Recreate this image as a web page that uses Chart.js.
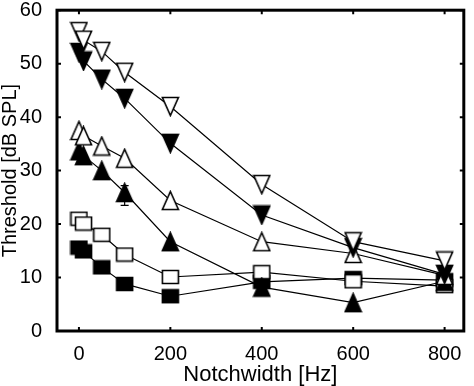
<!DOCTYPE html>
<html>
<head>
<meta charset="utf-8">
<script src="https://cdn.jsdelivr.net/npm/chart.js@4.4.1/dist/chart.umd.min.js"></script>
<style>
  html, body { margin: 0; padding: 0; background: #fff; }
</style>
</head>
<body>
<canvas id="myChart" width="474" height="386"></canvas>
<script>
// notch widths (Hz)
const notch = [0, 10, 50, 100, 200, 400, 600, 800];

// thresholds (dB SPL), one array per condition
const openDown   = [56.0, 54.4, 52.3, 48.4, 42.0, 27.4, 16.7, 13.1];
const filledDown = [52.1, 50.5, 47.1, 43.5, 35.1, 21.7, 15.6, 10.6];
const openUp     = [37.5, 36.5, 34.6, 32.3, 24.4, 16.7, 14.5, 10.4];
const filledUp   = [33.7, 32.8, 30.0, 25.9, 16.7, 8.2, 5.3, 9.3];
const openSq     = [21.0, 20.1, 18.0, 14.3, 10.1, 11.0, 9.3, 8.4];
const filledSq   = [15.6, 14.9, 11.9, 8.8, 6.5, 9.2, 9.9, 9.5];

// the one visible error bar (filled up triangle at 100 Hz)
const errX = [100];
const errLo = [23.5];
const errHi = [27.2];

const xTicks = [0, 200, 400, 600, 800];
const yTicks = [0, 10, 20, 30, 40, 50, 60];

const FONT = 'Liberation Sans, Arial, sans-serif';

function marker(shape, filled) {
  var w = 17, h = shape == 'sq' ? 14 : 19;
  var c = document.createElement('canvas');
  c.width = w + 2; c.height = h + 2;
  var g = c.getContext('2d');
  g.beginPath();
  if (shape == 'up') {
    g.moveTo(1 + w / 2, 1.5); g.lineTo(w + 0.5, h + 0.5); g.lineTo(1.5, h + 0.5);
  } else if (shape == 'down') {
    g.moveTo(1.5, 1.5); g.lineTo(w + 0.5, 1.5); g.lineTo(1 + w / 2, h + 0.5);
  } else {
    g.rect(1.5, 1.5, w - 1, h - 1);
  }
  g.closePath();
  g.fillStyle = filled ? '#000' : '#fff';
  g.fill();
  g.lineWidth = 1.6;
  g.strokeStyle = '#000';
  g.stroke();
  return c;
}

function series(vals, shape, filled) {
  return {
    data: notch.map((x, i) => ({ x: x, y: vals[i] })),
    showLine: true,
    borderColor: '#000',
    borderWidth: 1.2,
    pointStyle: marker(shape, filled),
    pointRadius: 9,
    pointHoverRadius: 9
  };
}

const frame = {
  id: 'frame',
  beforeDatasetsDraw(chart) {
    const ctx = chart.ctx, xs = chart.scales.x, ys = chart.scales.y;
    ctx.save();
    ctx.strokeStyle = '#000';
    ctx.lineWidth = 1.2;
    for (let i = 0; i < errX.length; i++) {
      const px = xs.getPixelForValue(errX[i]);
      const lo = ys.getPixelForValue(errLo[i]), hi = ys.getPixelForValue(errHi[i]);
      ctx.beginPath();
      ctx.moveTo(px, lo); ctx.lineTo(px, hi);
      ctx.moveTo(px - 4, lo); ctx.lineTo(px + 4, lo);
      ctx.moveTo(px - 4, hi); ctx.lineTo(px + 4, hi);
      ctx.stroke();
    }
    ctx.restore();
  },
  afterDraw(chart) {
    const ctx = chart.ctx, a = chart.chartArea, xs = chart.scales.x, ys = chart.scales.y;
    ctx.save();
    ctx.strokeStyle = '#000';
    ctx.lineWidth = 2;
    ctx.beginPath();
    xTicks.forEach(v => {
      const px = xs.getPixelForValue(v);
      ctx.moveTo(px, a.bottom); ctx.lineTo(px, a.bottom - 4);
      ctx.moveTo(px, a.top); ctx.lineTo(px, a.top + 4);
    });
    yTicks.forEach(v => {
      const py = ys.getPixelForValue(v);
      ctx.moveTo(a.left, py); ctx.lineTo(a.left + 4, py);
      ctx.moveTo(a.right, py); ctx.lineTo(a.right - 4, py);
    });
    ctx.stroke();
    ctx.lineWidth = 3;
    ctx.strokeRect(a.left, a.top, a.right - a.left, a.bottom - a.top);
    ctx.restore();
  }
};

const ctx = document.getElementById('myChart').getContext('2d');
const myChart = new Chart(ctx, {
  type: 'scatter',
  data: {
    datasets: [
      series(openDown, 'down', false),
      series(filledDown, 'down', true),
      series(openUp, 'up', false),
      series(filledUp, 'up', true),
      series(openSq, 'sq', false),
      series(filledSq, 'sq', true)
    ]
  },
  options: {
    responsive: false,
    animation: false,
    layout: { padding: { top: 9, right: 6, left: 0, bottom: 0 } },
    plugins: { legend: { display: false }, tooltip: { enabled: false } },
    scales: {
      x: {
        type: 'linear',
        min: -48,
        max: 842,
        afterBuildTicks: s => { s.ticks = xTicks.map(v => ({ value: v })); },
        afterFit: s => { s.height = 55; s.paddingRight = 0; s.paddingLeft = 0; },
        grid: { display: false },
        border: { display: false },
        ticks: { color: '#000', font: { family: FONT, size: 20 }, padding: 3, maxRotation: 0 },
        title: { display: true, text: 'Notchwidth [Hz]', color: '#000', font: { family: FONT, size: 22, lineHeight: 1 }, padding: { top: 0, bottom: 0 } }
      },
      y: {
        min: 0,
        max: 60,
        afterBuildTicks: s => { s.ticks = yTicks.map(v => ({ value: v })); },
        afterFit: s => { s.width = 57; s.paddingTop = 0; s.paddingBottom = 0; },
        grid: { display: false },
        border: { display: false },
        ticks: { color: '#000', font: { family: FONT, size: 20 }, padding: 7 },
        title: { display: true, text: 'Threshold [dB SPL]', color: '#000', font: { family: FONT, size: 20, lineHeight: 1 }, padding: { top: 0, bottom: 0 } }
      }
    }
  },
  plugins: [frame]
});
</script>
</body>
</html>
